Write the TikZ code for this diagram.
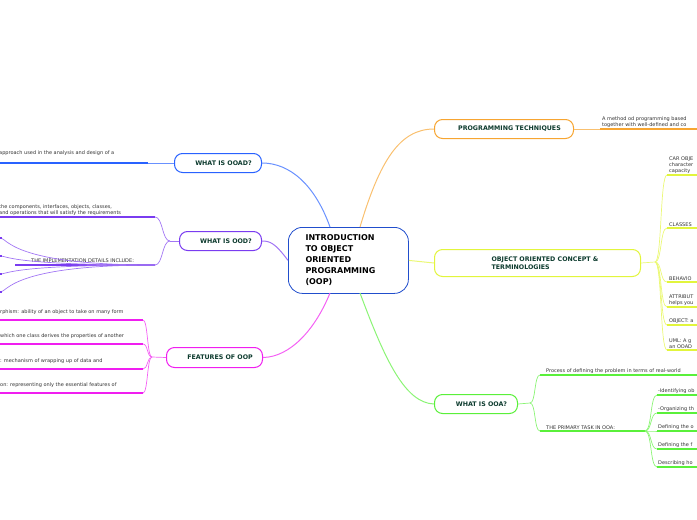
\documentclass[tikz,border=0pt]{standalone}
\usepackage{fontspec}
\setmainfont{DejaVu Sans}
\definecolor{corg}{HTML}{F7A531}
\definecolor{cyel}{HTML}{E2F53C}
\definecolor{cgrn}{HTML}{5AF03A}
\definecolor{cblu}{HTML}{2962FF}
\definecolor{cpur}{HTML}{7A3CF0}
\definecolor{cmag}{HTML}{F01EF0}
\definecolor{ctxt}{HTML}{0D3B2E}
\tikzset{
 br/.style={draw=#1,line width=1pt,rounded corners=8pt,fill=white,font=\fontsize{6.3}{7.5}\selectfont\bfseries,text=ctxt,inner sep=0pt,anchor=north west,align=left},
 lf/.style={anchor=south west,font=\fontsize{5}{6.3}\selectfont,text=black!80,inner sep=1pt,align=left},
 ul/.style={draw=#1,line width=1.4pt},
 cn/.style={draw=#1!70,line width=0.7pt},
}
\begin{document}
\begin{tikzpicture}[x=1pt,y=-1pt]
\useasboundingbox (0,0) rectangle (697,520);
% center
\node[draw=cblu!80!black,line width=0.8pt,rounded corners=14pt,minimum width=120pt,minimum height=66pt,anchor=north west,inner sep=0pt] (c) at (288,227) {};
\node[anchor=west,font=\fontsize{8}{11}\selectfont\bfseries,align=left,text=black] (ct) at (302,260) {INTRODUCTION\\TO OBJECT\\ORIENTED\\PROGRAMMING\\(OOP)};
% branches
\node[br=corg,minimum width=139pt,minimum height=19pt] (pt) at (434,119) {\hspace{11pt}PROGRAMMING TECHNIQUES};
\node[br=cyel,minimum width=206pt,minimum height=27pt] (oo) at (434,249) {\hspace{15pt}OBJECT ORIENTED CONCEPT \&\\\hspace{15pt}TERMINOLOGIES};
\node[br=cgrn,minimum width=83pt,minimum height=19pt] (ooa) at (434,394) {\hspace{11pt}WHAT IS OOA?};
\node[br=cblu,minimum width=87pt,minimum height=19pt] (ooad) at (174,153) {\hspace{11pt}WHAT IS OOAD?};
\node[br=cpur,minimum width=82pt,minimum height=19pt] (ood) at (179,231) {\hspace{11pt}WHAT IS OOD?};
\node[br=cmag,minimum width=96pt,minimum height=20pt] (fo) at (166,347) {\hspace{11pt}FEATURES OF OOP};
\begin{scope}[on background layer/.style={}]
\draw[cn=corg,line width=1pt] (360,227) .. controls (380,160) and (400,129) .. (pt.west);
\draw[cn=cyel,line width=1pt] (c.east) -- (oo.west);
\draw[cn=cgrn,line width=1pt] (360,293) .. controls (385,360) and (405,403) .. (ooa.west);
\draw[cn=cblu,line width=1pt] (330,227) .. controls (315,185) and (290,163) .. (ooad.east);
\draw[cn=cpur,line width=1pt] (c.west) .. controls (275,243) and (270,241) .. (ood.east);
\draw[cn=cmag,line width=1pt] (330,293) .. controls (315,330) and (290,357) .. (fo.east);
\end{scope}
% programming techniques
\coordinate (p1) at (600,129);
\draw[cn=corg] (pt.east) -- (p1);
\draw[ul=corg] (p1) -- (697,129);
\node[lf] (pl) at (601,129) {A method od programming based\\together with well-defined and co};
% object oriented leaves
\coordinate (o0) at (655,262);
\draw[cn=cyel] (oo.east) -- (o0);
\foreach \y/\t [count=\i] in {175/{CAR OBJE\\character\\capacity},228/{CLASSES},282/{BEHAVIO},307/{ATTRIBUT\\helps you},325/{OBJECT: a},350/{UML: A g\\an OOAD}}{
 \coordinate (oy\i) at (667,\y);
 \draw[cn=cyel] (o0) .. controls (662,262) and (660,\y) .. (oy\i);
 \draw[ul=cyel] (oy\i) -- (697,\y);
 \node[lf] (ot\i) at (668,\y) {\t};
}
% OOA
\coordinate (a0) at (530,403);
\draw[cn=cgrn] (ooa.east) -- (a0);
\coordinate (a1) at (540,375); \coordinate (a2) at (540,431);
\draw[cn=cgrn] (a0) .. controls (536,403) and (534,375) .. (a1);
\draw[cn=cgrn] (a0) .. controls (536,403) and (534,431) .. (a2);
\draw[ul=cgrn] (a1) -- (697,375);
\draw[ul=cgrn] (a2) -- (645,431);
\node[lf] (at1) at (545,375) {Process of defining the problem in terms of real-world};
\node[lf] (at2) at (545,431) {THE PRIMARY TASK IN OOA:};
\coordinate (b0) at (645,431);
\foreach \y/\t [count=\i] in {395/{-Identifying ob},413/{-Organizing th},431/{Defining the o},449/{Defining the f},467/{Describing ho}}{
 \coordinate (by\i) at (657,\y);
 \draw[cn=cgrn] (b0) .. controls (652,431) and (650,\y) .. (by\i);
 \draw[ul=cgrn] (by\i) -- (697,\y);
 \node[lf] (bt\i) at (657,\y) {\t};
}
% OOAD
\coordinate (d1) at (148,163);
\draw[cn=cblu] (ooad.west) -- (d1);
\draw[ul=cblu] (d1) -- (0,163);
\node[lf] (dt) at (-2,157) {approach used in the analysis and design of a};
% OOD
\coordinate (e0) at (170,241);
\draw[cn=cpur] (ood.west) -- (e0);
\coordinate (e1) at (155,217); \coordinate (e2) at (155,265);
\draw[cn=cpur] (e0) .. controls (162,241) and (163,217) .. (e1);
\draw[cn=cpur] (e0) .. controls (162,241) and (163,265) .. (e2);
\draw[ul=cpur] (e1) -- (0,217);
\draw[ul=cpur] (e2) -- (15,265);
\node[lf] (et1) at (-2,217) {the components, interfaces, objects, classes,\\ and operations that will satisfy the requirements};
\node[lf] (et2) at (30,264) {THE IMPLEMENTATION DETAILS INCLUDE:};
\foreach \y [count=\i] in {238,256,274,292}{
 \coordinate (f\i) at (0,\y);
 \draw[cn=cpur] (e2) .. controls (10,265) and (8,\y) .. (f\i);
 \draw[ul=cpur] (f\i) -- (2,\y);
}
% features
\coordinate (g0) at (152,357);
\draw[cn=cmag] (fo.west) -- (g0);
\foreach \y/\t [count=\i] in {320/{rphism: ability of an object to take on many form},344/{which one class derives the properties of another},369/{: mechanism of wrapping up of data and},393/{on: representing only the essential features of}}{
 \coordinate (gy\i) at (143,\y);
 \draw[cn=cmag] (g0) .. controls (147,357) and (148,\y) .. (gy\i);
 \draw[ul=cmag] (gy\i) -- (0,\y);
 \node[lf] (gt\i) at (-1,\y-4) {\t};
}
\end{tikzpicture}
\end{document}
